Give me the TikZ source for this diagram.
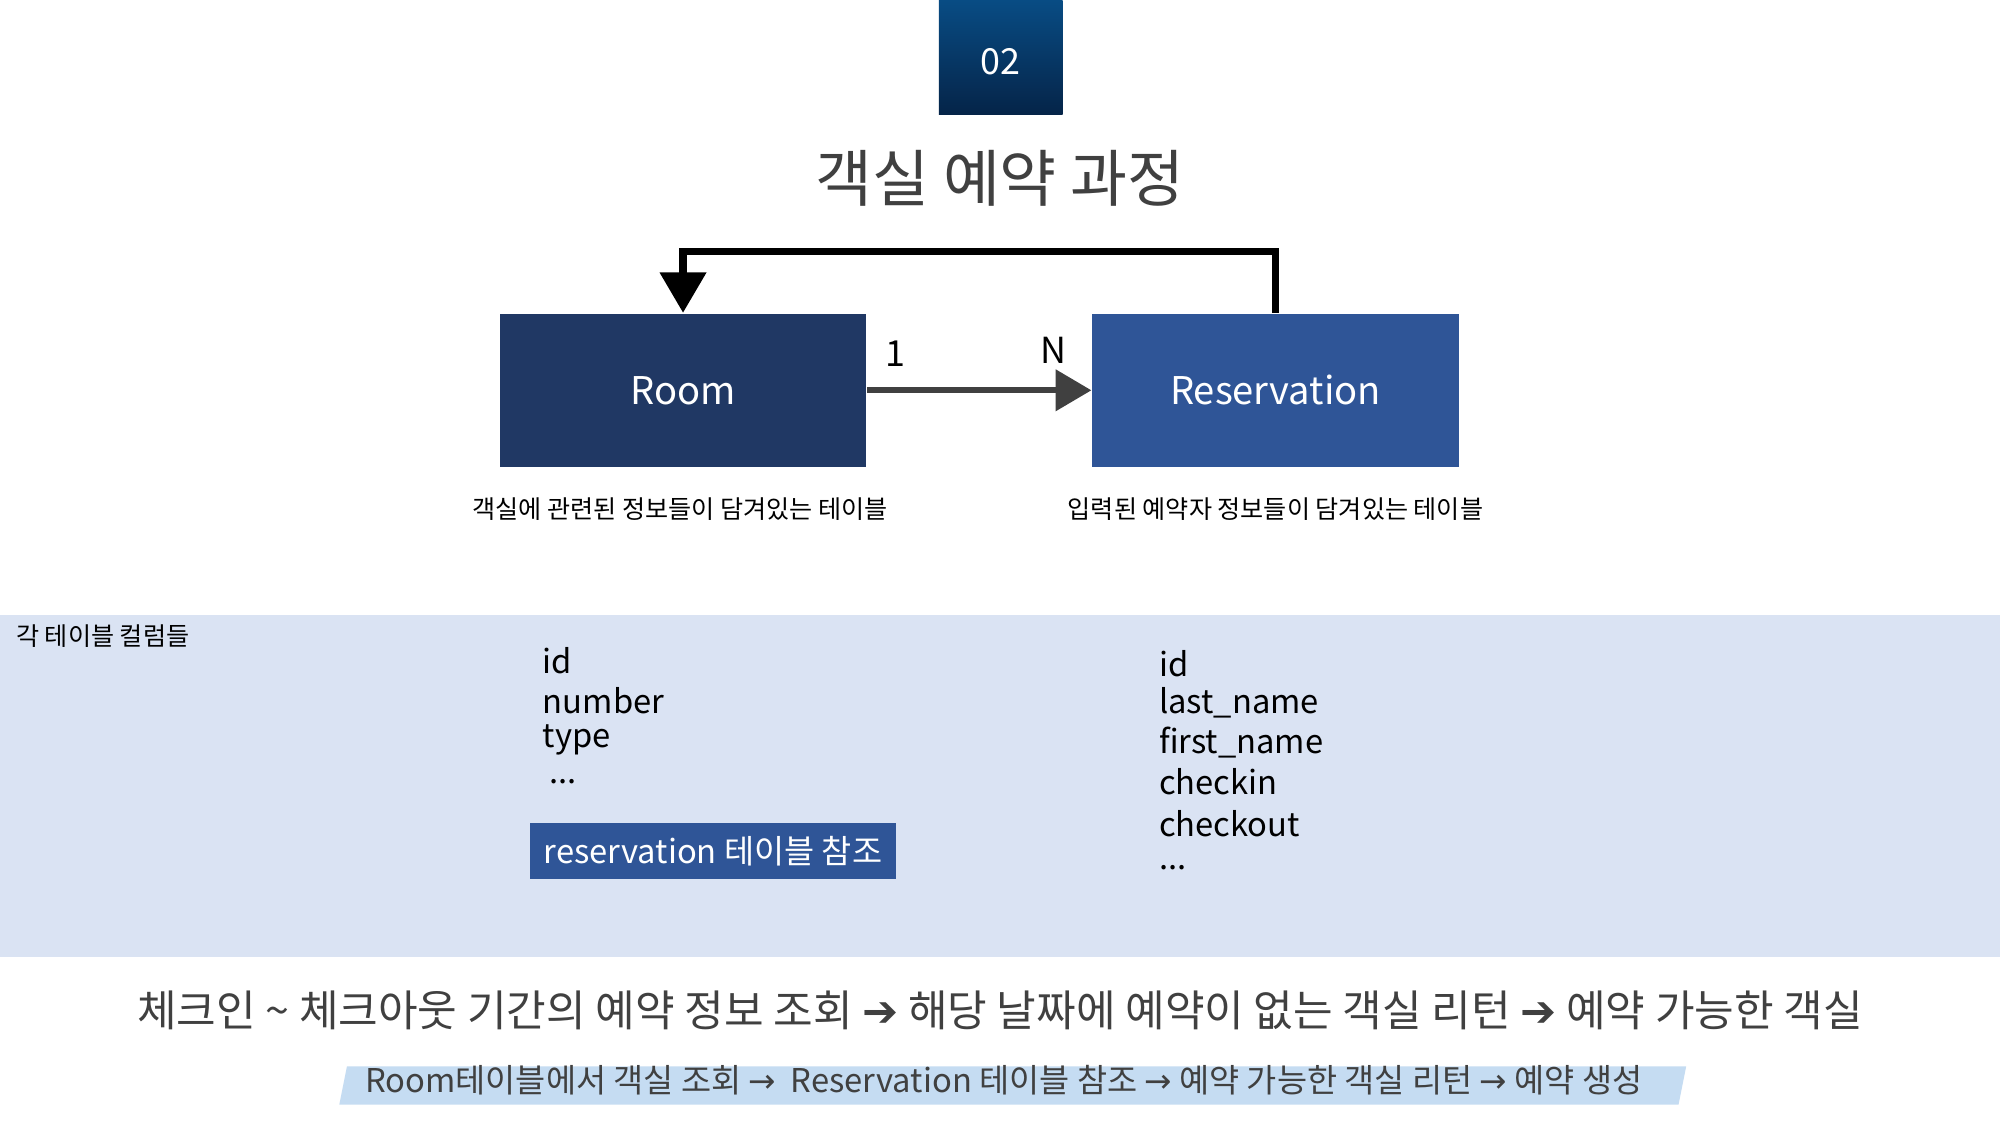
\documentclass[tikz,border=0pt]{standalone}
\usepackage{fontspec}
\setmainfont{Noto Sans CJK KR}
\newfontfamily\djsym{DejaVu Sans}
\usetikzlibrary{arrows.meta}
\definecolor{dk}{HTML}{203864}
\definecolor{md}{HTML}{2F5597}
\definecolor{band}{HTML}{DAE3F3}
\definecolor{gr}{HTML}{404040}
\definecolor{hl}{HTML}{C5DCF2}
\definecolor{topc}{RGB}{8,76,132}
\definecolor{botc}{RGB}{5,36,72}
\newcommand{\fs}[1]{\fontsize{#1}{#1}\selectfont}
\begin{document}
\begin{tikzpicture}[x=0.01cm,y=-0.01cm,
  tbl/.style={draw=none,minimum width=2.87cm,minimum height=1.2cm,text=white,font=\fs{8.5pt}},
  lst/.style={anchor=west,font=\fs{7.3pt},text=black,inner sep=0pt},
  captxt/.style={font=\fs{5.6pt},text=black}]
\useasboundingbox (0,0) rectangle (1568,882);
\fill[white] (0,0) rectangle (1568,882);
\fill[band] (0,482) rectangle (1568,750);
\shade[top color=topc, bottom color=botc] (736,0) rectangle (833,90);
\node[text=white,font=\fs{8pt}] (n02) at (784,48) {02};
\node[text=gr,font=\fs{13.8pt}] (title) at (784,140) {객실 예약 과정};
\node[tbl,fill=dk] (room) at (535.5,306) {Room};
\node[tbl,fill=md] (res) at (1000,306) {Reservation};
\draw[line width=1.7pt,-{Triangle[length=9pt,width=10pt]}] (res.north) -- ++(0,-48) -| (room.north);
\draw[gr,line width=1.4pt,-{Triangle[length=8pt,width=9pt]}] (room.east) -- (res.west);
\node[font=\fs{8pt}] (one) at (702,277) {1};
\node[font=\fs{8pt}] (nn) at (826,275) {N};
\node[captxt] (c1) at (533,399) {객실에 관련된 정보들이 담겨있는 테이블};
\node[captxt] (c2) at (1000,399) {입력된 예약자 정보들이 담겨있는 테이블};
\node[captxt,anchor=west,inner sep=0pt] (bandl) at (12,499) {각 테이블 컬럼들};
\node[lst] (l1) at (425,518) {id};
\node[lst] (l2) at (425,549) {number};
\node[lst] (l3) at (425,580) {type};
\node[lst] (l4) at (430,613) {...};
\node[fill=md,text=white,font=\fs{7.3pt},minimum width=2.87cm,minimum height=0.44cm,inner sep=0pt] (rref) at (559,667) {reservation 테이블 참조};
\node[lst] (r1) at (908,520) {id};
\node[lst] (r2) at (908,551) {last\_name};
\node[lst] (r3) at (908,582) {first\_name};
\node[lst] (r4) at (908,613) {checkin};
\node[lst] (r5) at (908,646) {checkout};
\node[lst] (r6) at (908,680) {...};
\node[text=gr,font=\fs{9.6pt}] (flow) at (784,792) {체크인 \textasciitilde{} 체크아웃 기간의 예약 정보 조회 {\djsym ➔} 해당 날짜에 예약이 없는 객실 리턴 {\djsym ➔} 예약 가능한 객실};
\fill[hl] (272,836) -- (1322,836) -- (1316,866) -- (266,866) -- cycle;
\node[text=gr,font=\fs{7.3pt}] (flow2) at (787,847) {Room테이블에서 객실 조회 {\djsym →}\ \ Reservation 테이블 참조 {\djsym →} 예약 가능한 객실 리턴 {\djsym →} 예약 생성};
\end{tikzpicture}
\end{document}
